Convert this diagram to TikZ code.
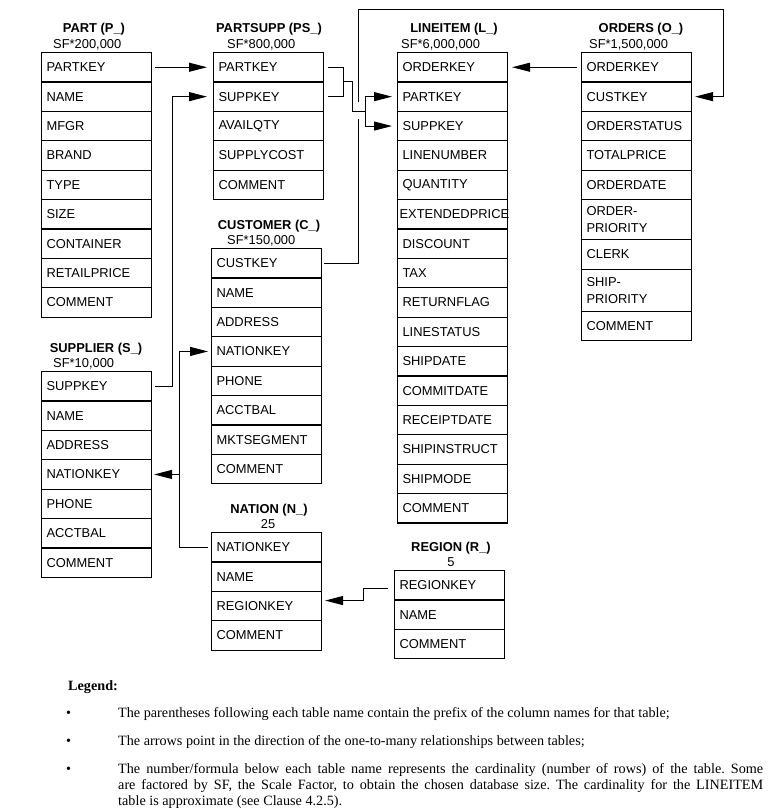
\documentclass[tikz,border=0pt]{standalone}
\usepackage{fontspec}
\setmainfont{Liberation Sans}
\newfontfamily\legfont{Liberation Serif}
\usetikzlibrary{arrows.meta,calc}
\frenchspacing
\newcommand\rf{\fontsize{12.9pt}{16.5pt}\selectfont}
\newcommand\lf{\legfont\fontsize{14.2pt}{17pt}\selectfont}
\newcommand\dbtable[4]{\foreach \rowtxt [count=\i] in {#4} {\node[row] (#1\i) at (#2,{#3+(\i-1)*29.4}) {\rowtxt};}}
\begin{document}
\begin{tikzpicture}[x=1pt,y=-1pt,
  row/.style={draw, line width=1.1pt, anchor=north west, minimum height=29.4pt,
    text width=100pt, inner xsep=5pt, inner ysep=0pt, align=left, font=\rf},
  ttl/.style={anchor=base, font=\rf\bfseries, inner sep=0pt},
  card/.style={anchor=base west, font=\rf, inner sep=0pt},
  cardc/.style={anchor=base, font=\rf, inner sep=0pt},
  conn/.style={line width=1pt},
  arr/.style={conn, -{Triangle[length=18pt,width=9pt]}},
  leg/.style={anchor=base west, font=\lf, inner sep=0pt}]
\useasboundingbox (0,0) rectangle (768,808);

% ---------- tables ----------
\dbtable{part}{41}{52}{PARTKEY,NAME,MFGR,BRAND,TYPE,SIZE,CONTAINER,RETAILPRICE,COMMENT}
\dbtable{ps}{213}{52}{PARTKEY,SUPPKEY,AVAILQTY,SUPPLYCOST,COMMENT}
\dbtable{li}{397}{52}{ORDERKEY,PARTKEY,SUPPKEY,LINENUMBER,QUANTITY,{\mbox{\hspace*{-3pt}EXTENDEDPRICE}},DISCOUNT,TAX,RETURNFLAG,LINESTATUS,SHIPDATE,COMMITDATE,RECEIPTDATE,SHIPINSTRUCT,SHIPMODE,COMMENT}
\dbtable{cu}{211}{248}{CUSTKEY,NAME,ADDRESS,NATIONKEY,PHONE,ACCTBAL,MKTSEGMENT,COMMENT}
\dbtable{su}{41}{371}{SUPPKEY,NAME,ADDRESS,NATIONKEY,PHONE,ACCTBAL,COMMENT}
\dbtable{na}{211}{532}{NATIONKEY,NAME,REGIONKEY,COMMENT}
\dbtable{re}{394}{570}{REGIONKEY,NAME,COMMENT}

\node[row] (ord1) at (581,52) {ORDERKEY};
\node[row] (ord2) at (581,81.4) {CUSTKEY};
\node[row] (ord3) at (581,110.8) {ORDERSTATUS};
\node[row] (ord4) at (581,140.2) {TOTALPRICE};
\node[row] (ord5) at (581,169.6) {ORDERDATE};
\node[row, minimum height=40pt] (ord6) at (581,199) {ORDER-\\PRIORITY};
\node[row, minimum height=30pt] (ord7) at (581,239) {CLERK};
\node[row, minimum height=42pt] (ord8) at (581,269) {SHIP-\\PRIORITY};
\node[row, minimum height=29pt] (ord9) at (581,311) {COMMENT};

% ---------- titles ----------
\node[ttl] (part-t) at (94,33) {PART (P\_)};
\node[card] (part-c) at (53,48.5) {SF*200,000};
\node[ttl] (ps-t) at (269,33) {PARTSUPP (PS\_)};
\node[card] (ps-c) at (227,48.5) {SF*800,000};
\node[ttl] (li-t) at (454,33) {LINEITEM (L\_)};
\node[card] (li-c) at (401,48.5) {SF*6,000,000};
\node[ttl] (ord-t) at (641,33) {ORDERS (O\_)};
\node[card] (ord-c) at (589,48.5) {SF*1,500,000};
\node[ttl] (cu-t) at (269,229) {CUSTOMER (C\_)};
\node[card] (cu-c) at (227,244.5) {SF*150,000};
\node[ttl] (su-t) at (96,352) {SUPPLIER (S\_)};
\node[card] (su-c) at (53,367.5) {SF*10,000};
\node[ttl] (na-t) at (269,513) {NATION (N\_)};
\node[cardc] (na-c) at (268,528.5) {25};
\node[ttl] (re-t) at (451,551) {REGION (R\_)};
\node[cardc] (re-c) at (451,566.5) {5};

% ---------- connectors ----------
% PART -> PARTSUPP
\draw[arr] ([xshift=3pt]part1.east) -- ([xshift=-6pt]ps1.west);
% SUPPLIER -> PARTSUPP
\coordinate (sv) at ($(ps2.west)+(-41,0)$);
\draw[arr] ([xshift=3pt]su1.east) -| (sv) -- ([xshift=-6pt]ps2.west);
% PARTSUPP (PARTKEY,SUPPKEY) -> LINEITEM
\coordinate (psm) at ($(ps1.east)!.5!(ps2.east)+(19,0)$);
\coordinate (lim) at ($(li2.west)!.5!(li3.west)+(-32,0)$);
\draw[conn] ([xshift=4pt]ps1.east) -| (psm) |- ([xshift=4pt]ps2.east);
\draw[conn] (psm) -- ++(9,0) |- (lim);
\draw[arr] (lim) |- ([xshift=-5pt]li2.west);
\draw[arr] (lim) |- ([xshift=-5pt]li3.west);
% ORDERS -> LINEITEM
\draw[arr] ([xshift=-4pt]ord1.west) -- ([xshift=4pt]li1.east);
% CUSTOMER -> ORDERS (with gap at crossing)
\coordinate (cv) at ($(cu1.east)+(36,0)$);
\coordinate (gapb) at ($(cv|-lim)+(0,8)$);
\coordinate (gapt) at ($(cv|-lim)+(0,-9)$);
\coordinate (ct) at (cv|-0,10);
\coordinate (cr) at (723,10);
\draw[conn] ([xshift=2pt]cu1.east) -- (cv) -- (gapb);
\draw[arr] (gapt) -- (ct) -- (cr) |- ([xshift=3pt]ord2.east);
% NATION -> SUPPLIER, CUSTOMER
\coordinate (nv) at ($(na1.west)+(-32,0)$);
\draw[arr] ([xshift=-3pt]na1.west) -- (nv) |- ([xshift=-3pt]cu4.west);
\draw[arr] (nv|-su4.east) -- ([xshift=2pt]su4.east);
% REGION -> NATION
\coordinate (rv) at ($(re1.west)+(-31,3.3)$);
\draw[arr] ([xshift=-6pt,yshift=-3.3pt]re1.west) -- (rv) |- ([xshift=3pt,yshift=5.5pt]na3.east);

% ---------- legend ----------
\node[leg, font=\lf\bfseries] (legend) at (68,690) {Legend:};
\node[leg] (bul1) at (66,717) {\textbullet};
\node[leg] (txt1) at (118,717) {The parentheses following each table name contain the prefix of the column names for that table;};
\node[leg] (bul2) at (66,745) {\textbullet};
\node[leg] (txt2) at (118,745) {The arrows point in the direction of the one-to-many relationships between tables;};
\node[leg] (bul3) at (66,773) {\textbullet};
\node[leg] (txt3a) at (118,773) {\makebox[645pt][s]{The number/formula below each table name represents the cardinality (number of rows) of the table. Some}};
\node[leg] (txt3b) at (118,789.5) {\makebox[645pt][s]{are factored by SF, the Scale Factor, to obtain the chosen database size. The cardinality for the LINEITEM}};
\node[leg] (txt3c) at (118,805) {table is approximate (see Clause 4.2.5).};
\end{tikzpicture}
\end{document}
